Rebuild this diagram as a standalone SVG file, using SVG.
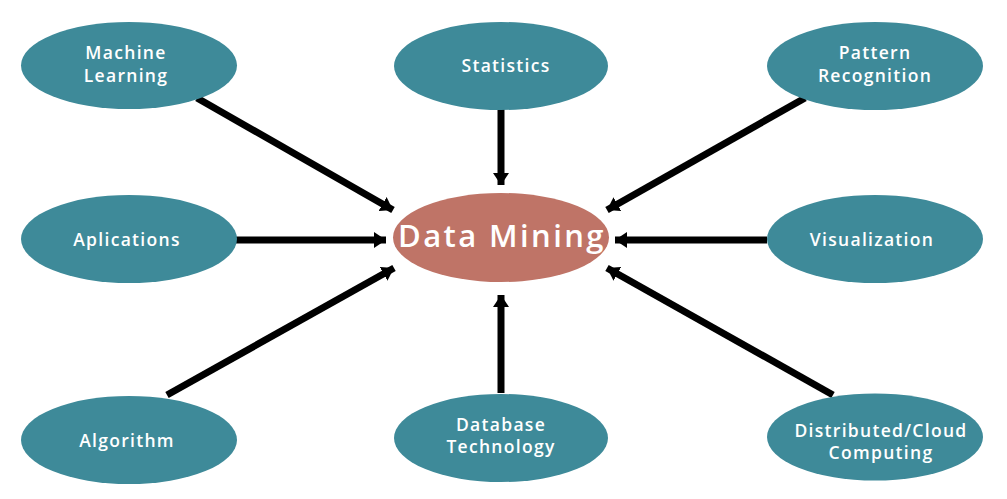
<svg xmlns="http://www.w3.org/2000/svg" width="1007" height="499" viewBox="0 0 1007 499">
<style>
.n{fill:#3E8A99}
.c{fill:#BF7467}
.t{fill:#fff;font-family:"Open Sans","Liberation Sans",sans-serif;font-weight:600;font-size:17.5px;letter-spacing:1.3px;text-anchor:middle}
.tc{fill:#fff;font-family:"Open Sans","Liberation Sans",sans-serif;font-weight:600;font-size:31px;letter-spacing:2.4px;text-anchor:middle}
.e{stroke:#000;stroke-width:7;fill:none;marker-end:url(#ah)}
</style>
<defs>
<marker id="ah" markerUnits="userSpaceOnUse" viewBox="0 0 12 16" refX="12" refY="8" markerWidth="12" markerHeight="16" orient="auto">
<path d="M0,0 L12,8 L0,16 Z" fill="#000"/>
</marker>
</defs>
<rect width="1007" height="499" fill="#fff"/>
<g id="connectors">
<line class="e" x1="197" y1="98" x2="393" y2="210"/>
<line class="e" x1="501" y1="109" x2="501" y2="185"/>
<line class="e" x1="805" y1="98" x2="607" y2="210"/>
<line class="e" x1="236" y1="240" x2="386" y2="240"/>
<line class="e" x1="767" y1="240" x2="615" y2="240"/>
<line class="e" x1="167" y1="395" x2="394" y2="268"/>
<line class="e" x1="501" y1="393" x2="501" y2="295"/>
<line class="e" x1="833" y1="395" x2="607" y2="268"/>
</g>
<g id="machine-learning">
<ellipse class="n" cx="129" cy="65.5" rx="108" ry="43.5"/>
<text class="t" x="126" y="59">Machine</text>
<text class="t" x="126" y="82">Learning</text>
</g>
<g id="statistics">
<ellipse class="n" cx="501" cy="66" rx="107" ry="44"/>
<text class="t" x="506" y="72">Statistics</text>
</g>
<g id="pattern-recognition">
<ellipse class="n" cx="875" cy="66" rx="108" ry="44"/>
<text class="t" x="875" y="59">Pattern</text>
<text class="t" x="875" y="82">Recognition</text>
</g>
<g id="aplications">
<ellipse class="n" cx="129" cy="239" rx="108" ry="44"/>
<text class="t" x="127" y="246">Aplications</text>
</g>
<g id="data-mining">
<ellipse class="c" cx="501" cy="237.5" rx="108" ry="44.5"/>
<text class="tc" x="502" y="247">Data Mining</text>
</g>
<g id="visualization">
<ellipse class="n" cx="875" cy="239" rx="108" ry="44"/>
<text class="t" x="872" y="246">Visualization</text>
</g>
<g id="algorithm">
<ellipse class="n" cx="129" cy="440" rx="108" ry="44"/>
<text class="t" x="127" y="447">Algorithm</text>
</g>
<g id="database-technology">
<ellipse class="n" cx="501" cy="438" rx="107" ry="44"/>
<text class="t" x="501" y="431">Database</text>
<text class="t" x="501" y="453">Technology</text>
</g>
<g id="distributed-cloud-computing">
<ellipse class="n" cx="875" cy="437" rx="108" ry="43.5"/>
<text class="t" x="881" y="437">Distributed/Cloud</text>
<text class="t" x="881" y="459">Computing</text>
</g>
</svg>
